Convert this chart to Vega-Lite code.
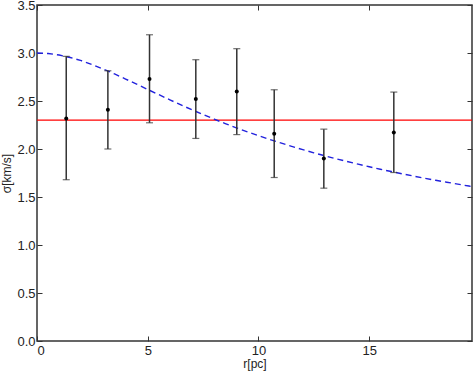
{
  "$schema": "https://vega.github.io/schema/vega-lite/v6.json",
  "autosize": {"type": "none"},
  "width": 435,
  "height": 336,
  "padding": {"left": 37, "top": 5, "right": 2, "bottom": 31},
  "config": {
    "view": {"stroke": "#333333", "strokeWidth": 1.5},
    "axis": {
      "labelFont": "Liberation Sans",
      "titleFont": "Liberation Sans",
      "labelFontSize": 13,
      "titleFontSize": 12,
      "titleFontWeight": "normal",
      "labelColor": "#222222",
      "titleColor": "#222222",
      "grid": false,
      "domain": false,
      "tickColor": "#333333",
      "tickSize": -5,
      "tickWidth": 1
    }
  },
  "datasets": {
    "pts": [
      {"r": 1.32, "s": 2.318, "lo": 1.68, "hi": 2.965},
      {"r": 3.2, "s": 2.41, "lo": 2.0, "hi": 2.815},
      {"r": 5.08, "s": 2.73, "lo": 2.273, "hi": 3.19},
      {"r": 7.17, "s": 2.52, "lo": 2.11, "hi": 2.93},
      {"r": 9.02, "s": 2.6, "lo": 2.15, "hi": 3.045},
      {"r": 10.71, "s": 2.158, "lo": 1.703, "hi": 2.617},
      {"r": 12.95, "s": 1.9, "lo": 1.592, "hi": 2.207},
      {"r": 16.11, "s": 2.172, "lo": 1.755, "hi": 2.593}
    ],
    "curve": [
      {"r": 0, "s": 3.0}, {"r": 0.5, "s": 2.995}, {"r": 1, "s": 2.979}, {"r": 1.5, "s": 2.953},
      {"r": 2, "s": 2.92}, {"r": 2.5, "s": 2.879}, {"r": 3, "s": 2.832}, {"r": 3.5, "s": 2.782},
      {"r": 4, "s": 2.729}, {"r": 4.5, "s": 2.675}, {"r": 5, "s": 2.62}, {"r": 5.5, "s": 2.566},
      {"r": 6, "s": 2.512}, {"r": 6.5, "s": 2.459}, {"r": 7, "s": 2.408}, {"r": 7.5, "s": 2.359},
      {"r": 8, "s": 2.311}, {"r": 8.5, "s": 2.265}, {"r": 9, "s": 2.221}, {"r": 9.5, "s": 2.179},
      {"r": 10, "s": 2.139}, {"r": 10.5, "s": 2.1}, {"r": 11, "s": 2.063}, {"r": 11.5, "s": 2.027},
      {"r": 12, "s": 1.993}, {"r": 12.5, "s": 1.96}, {"r": 13, "s": 1.929}, {"r": 13.5, "s": 1.898},
      {"r": 14, "s": 1.87}, {"r": 14.5, "s": 1.842}, {"r": 15, "s": 1.815}, {"r": 15.5, "s": 1.789},
      {"r": 16, "s": 1.765}, {"r": 16.5, "s": 1.741}, {"r": 17, "s": 1.718}, {"r": 17.5, "s": 1.696},
      {"r": 18, "s": 1.674}, {"r": 18.5, "s": 1.654}, {"r": 19, "s": 1.634}, {"r": 19.5, "s": 1.614},
      {"r": 19.64, "s": 1.609}
    ],
    "flat": [{"r": 0, "s": 2.3}, {"r": 19.64, "s": 2.3}]
  },
  "resolve": {"axis": {"x": "independent", "y": "independent"}},
  "layer": [
    {
      "data": {"name": "flat"},
      "mark": {"type": "line", "color": "#ff0000", "strokeWidth": 1.2, "clip": true},
      "encoding": {
        "x": {"field": "r", "type": "quantitative", "scale": {"domain": [0, 19.64], "nice": false, "zero": false},
              "axis": {"values": [0, 5, 10, 15], "title": "r[pc]", "labelPadding": 8, "titlePadding": 1}},
        "y": {"field": "s", "type": "quantitative", "scale": {"domain": [0, 3.5], "nice": false},
              "axis": {"values": [0, 0.5, 1, 1.5, 2, 2.5, 3, 3.5], "format": ".1f", "title": "σ[km/s]", "labelPadding": 7, "titlePadding": 3}}
      }
    },
    {
      "data": {"name": "curve"},
      "mark": {"type": "line", "color": "#2222dd", "strokeWidth": 1.4, "strokeDash": [6, 4], "clip": true},
      "encoding": {
        "x": {"field": "r", "type": "quantitative", "axis": {"orient": "top", "values": [0, 5, 10, 15], "labels": false, "title": null}},
        "y": {"field": "s", "type": "quantitative", "axis": {"orient": "right", "values": [0, 0.5, 1, 1.5, 2, 2.5, 3, 3.5], "labels": false, "title": null}}
      }
    },
    {
      "data": {"name": "pts"},
      "mark": {"type": "rule", "color": "#333333", "strokeWidth": 1.5},
      "encoding": {
        "x": {"field": "r", "type": "quantitative", "axis": null},
        "y": {"field": "lo", "type": "quantitative", "axis": null},
        "y2": {"field": "hi"}
      }
    },
    {
      "data": {"name": "pts"},
      "mark": {"type": "tick", "orient": "horizontal", "color": "#333333", "size": 7, "thickness": 1.2},
      "encoding": {
        "x": {"field": "r", "type": "quantitative", "axis": null},
        "y": {"field": "lo", "type": "quantitative", "axis": null}
      }
    },
    {
      "data": {"name": "pts"},
      "mark": {"type": "tick", "orient": "horizontal", "color": "#333333", "size": 7, "thickness": 1.2},
      "encoding": {
        "x": {"field": "r", "type": "quantitative", "axis": null},
        "y": {"field": "hi", "type": "quantitative", "axis": null}
      }
    },
    {
      "data": {"name": "pts"},
      "mark": {"type": "point", "filled": true, "color": "#000000", "size": 16, "opacity": 1},
      "encoding": {
        "x": {"field": "r", "type": "quantitative", "axis": null},
        "y": {"field": "s", "type": "quantitative", "axis": null}
      }
    }
  ]
}
